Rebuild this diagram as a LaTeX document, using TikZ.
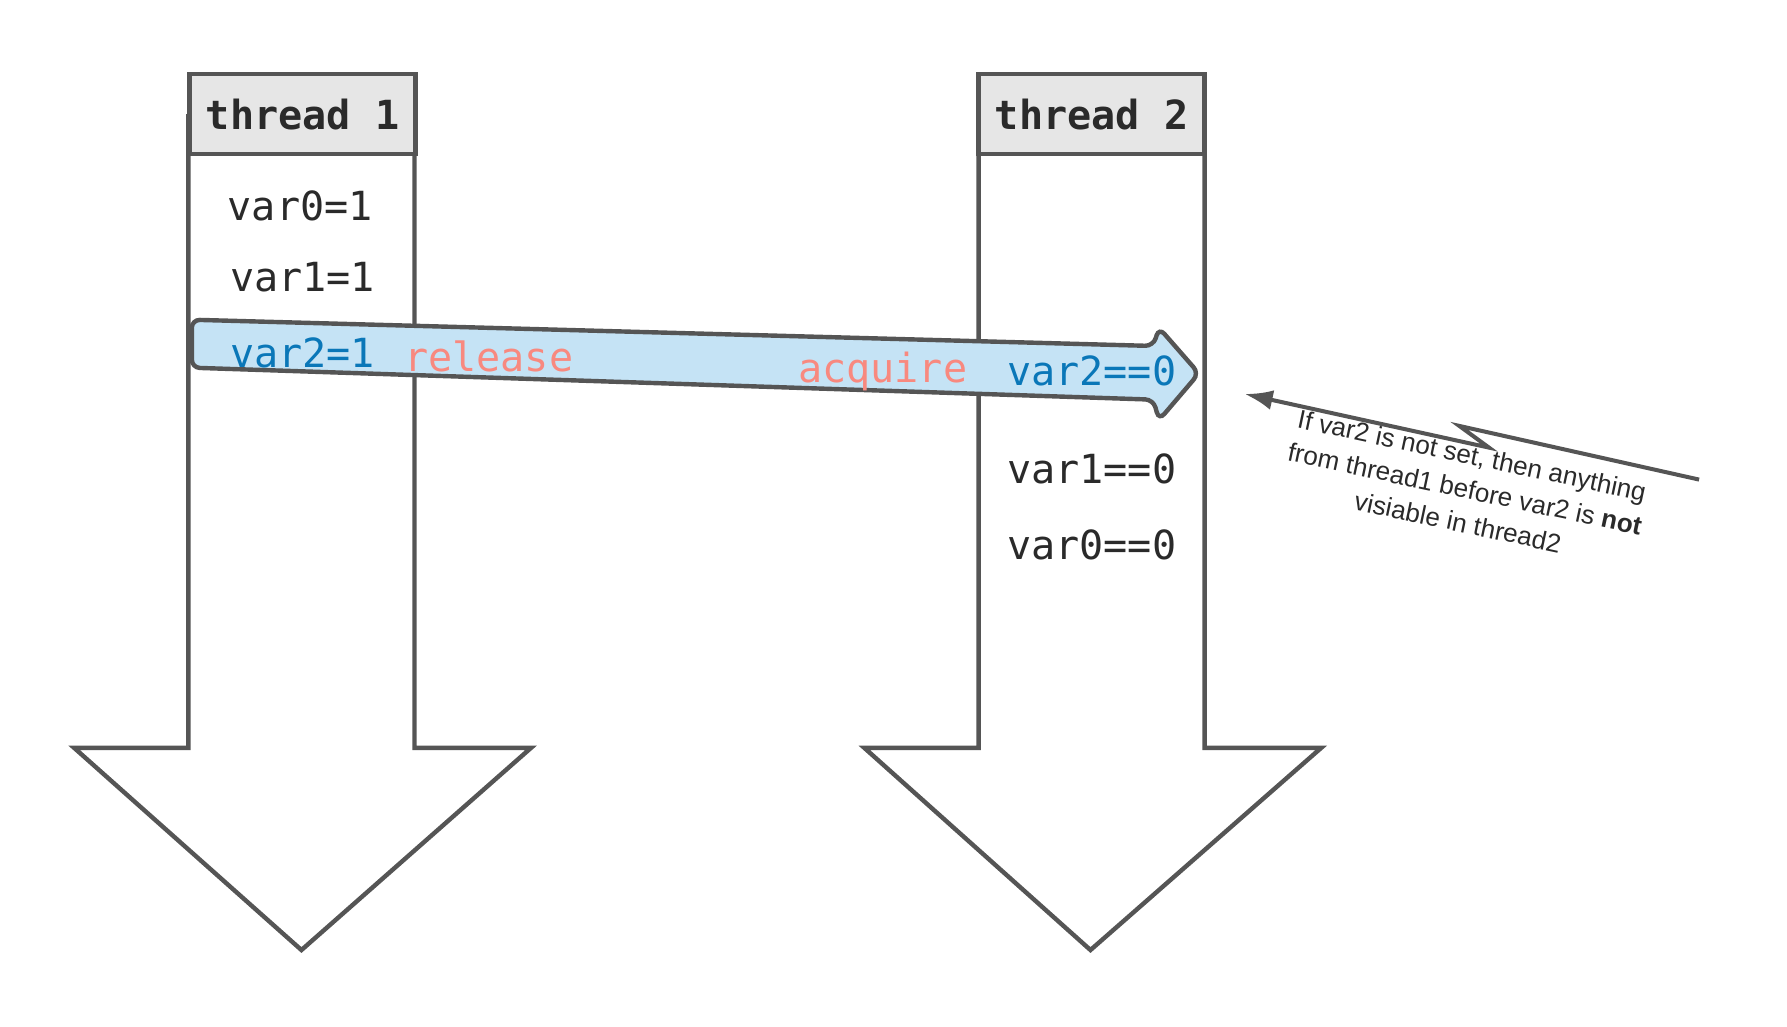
\documentclass[tikz,border=0pt]{standalone}
\usepackage{fontspec}
\setmainfont{Liberation Sans}
\newfontfamily\monof{DejaVu Sans Mono}
\usetikzlibrary{arrows.meta}
\definecolor{edge}{HTML}{555555}
\definecolor{hdr}{HTML}{E6E6E6}
\definecolor{fat}{HTML}{C5E3F5}
\definecolor{vblue}{HTML}{0A77B8}
\definecolor{salmon}{HTML}{F8897F}
\definecolor{txt}{HTML}{2A2A2A}
\begin{document}
\begin{tikzpicture}[x=0.02cm,y=-0.02cm,
  outl/.style={draw=edge,line width=2.2pt,line join=miter},
  code/.style={font=\monof\fontsize{20}{24}\selectfont,text=txt,inner sep=0pt},
  head/.style={outl,fill=hdr,minimum width=3.96cm,minimum height=1.4cm,font=\monof\bfseries\fontsize{20}{24}\selectfont,text=txt}]
\useasboundingbox (0,0) rectangle (1565,899);
% thread arrows
\draw[outl,fill=white] (165,100) -- (165,655) -- (65,655) -- (264,832) -- (465,655) -- (363,655) -- (363,100);
\draw[outl,fill=white] (857,100) -- (857,655) -- (757,655) -- (955,832) -- (1157,655) -- (1055,655) -- (1055,100);
\node[head] (h1) at (265,100) {thread 1};
\node[head] (h2) at (956,100) {thread 2};
% fat arrow
\draw[outl,fill=fat,rounded corners=4pt] (168,280) -- (1010,303) -- (1015,287) -- (1050,327) -- (1015,368) -- (1010,350) -- (168,322) -- cycle;
\node[code] (a0) at (263,180) {var0=1};
\node[code] (a1) at (265,243) {var1=1};
\node[code,text=vblue] (a2) at (265,309) {var2=1};
\node[code,text=salmon] (rel) at (428,312) {release};
\node[code,text=salmon] (acq) at (773,325) {acquire};
\node[code,text=vblue] (b2) at (956,325) {var2==0};
\node[code] (b1) at (956,411) {var1==0};
\node[code] (b0) at (956,477) {var0==0};
% annotation
\coordinate (s) at (1488,420);
\coordinate (k1) at (1278,373);
\coordinate (k2) at (1304,392);
\coordinate (e) at (1090,345);
\draw[edge,line width=2pt,-{Latex[length=14pt,width=10pt]}] (s) -- (k1) -- (k2) -- (e);
\node[rotate=-12,align=center,text=txt,font=\fontsize{13}{17}\selectfont,inner sep=0pt] (note) at (1283,428)
  {If var2 is not set, then anything\\ from thread1 before var2 is \textbf{not}\\ visiable in thread2};
\end{tikzpicture}
\end{document}
